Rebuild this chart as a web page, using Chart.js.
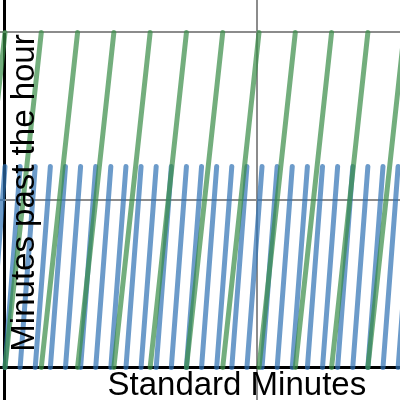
<!DOCTYPE html>
<html>
<head>
<meta charset="utf-8">
<script src="https://cdn.jsdelivr.net/npm/chart.js@4/dist/chart.umd.min.js"></script>
<style>
    html, body { margin: 0; padding: 0; background: #fff; }
    #chart { display: block; }
</style>
</head>
<body>
<canvas id="chart" width="400" height="400"></canvas>
<script>
// standard minutes where "minutes past the hour" drops back to 0 (every 60 min)
const blueResets = [-60, 0, 60, 120, 180, 240, 300, 360, 420, 480, 540, 600, 660, 720,
    780, 840, 900, 960, 1020, 1080, 1140, 1200, 1260, 1320, 1380, 1440, 1500, 1560, 1620];
const bluePeak = 60;

// decimal hour resets (every 144 standard minutes), peak 100
const greenResets = [-144, 0, 144, 288, 432, 576, 720, 864, 1008, 1152, 1296, 1440, 1584];
const greenPeak = 100;

// grid / axis positions
const xGridTicks = [0, 1000];
const yGridTicks = [0, 50, 100];

const xTitle = 'Standard Minutes';
const yTitle = 'Minutes past the hour';

// 각 톱니를 따로 그림 (리셋 지점은 null 로 끊기)
const buildTeeth = (resets, peak) => {
    const pts = [];
    for (let i = 0; i < resets.length - 1; i++) {
        pts.push({ x: resets[i], y: 0 });
        pts.push({ x: resets[i + 1], y: peak });
        pts.push({ x: resets[i + 1], y: null });
    }
    return pts;
};

const axisTitles = {
    id: 'axisTitles',
    afterDatasetsDraw(chart) {
        const { ctx, scales } = chart;
        ctx.save();
        ctx.fillStyle = '#000';
        ctx.font = '33px "Liberation Sans", Arial, sans-serif';
        ctx.textBaseline = 'alphabetic';
        ctx.textAlign = 'center';
        ctx.fillText(xTitle, scales.x.getPixelForValue(920), scales.y.getPixelForValue(-8.3));

        ctx.translate(scales.x.getPixelForValue(115), scales.y.getPixelForValue(52.1));
        ctx.rotate(-Math.PI / 2);
        ctx.fillText(yTitle, 0, 0);
        ctx.restore();
    }
};

const gridColor = (ctx) => ctx.tick && ctx.tick.value === 0 ? '#000' : '#8c8c8c';
const gridWidth = (ctx) => ctx.tick && ctx.tick.value === 0 ? 3 : 2;

new Chart(document.getElementById('chart'), {
    type: 'line',
    data: {
        datasets: [
            {
                label: 'decimal',
                data: buildTeeth(greenResets, greenPeak),
                borderColor: 'rgba(56, 140, 70, 0.7)',
                borderWidth: 5,
                borderCapStyle: 'round',
                pointRadius: 0,
                spanGaps: false,
                tension: 0
            },
            {
                label: 'standard',
                data: buildTeeth(blueResets, bluePeak),
                borderColor: 'rgba(45, 112, 179, 0.7)',
                borderWidth: 5,
                borderCapStyle: 'round',
                pointRadius: 0,
                spanGaps: false,
                tension: 0
            }
        ]
    },
    options: {
        responsive: false,
        animation: false,
        layout: { padding: 0 },
        plugins: {
            legend: { display: false },
            tooltip: { enabled: false }
        },
        scales: {
            x: {
                type: 'linear',
                min: -19.84,
                max: 1567.5,
                afterBuildTicks: (scale) => { scale.ticks = xGridTicks.map(v => ({ value: v })); },
                ticks: { display: false },
                border: { display: false },
                grid: { drawTicks: false, color: gridColor, lineWidth: gridWidth }
            },
            y: {
                type: 'linear',
                min: -9.7,
                max: 109.7,
                afterBuildTicks: (scale) => { scale.ticks = yGridTicks.map(v => ({ value: v })); },
                ticks: { display: false },
                border: { display: false },
                grid: { drawTicks: false, color: gridColor, lineWidth: gridWidth }
            }
        }
    },
    plugins: [axisTitles]
});
</script>
</body>
</html>
